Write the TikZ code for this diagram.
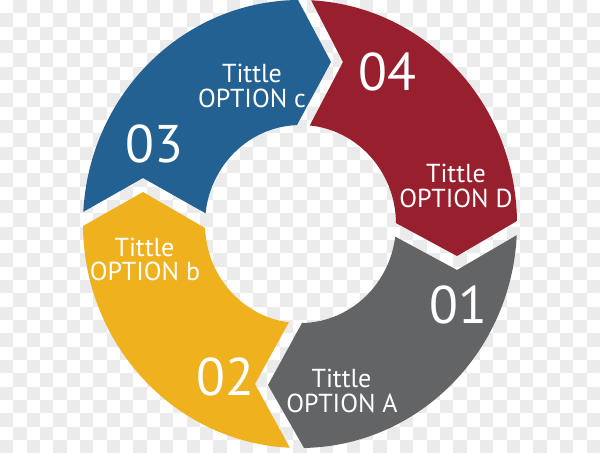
\documentclass[tikz,border=0pt]{standalone}
\usepackage{fontspec}
\setmainfont{PT Sans}
\definecolor{cblue}{RGB}{35,97,146}
\definecolor{cred}{RGB}{152,31,45}
\definecolor{cgrey}{RGB}{99,100,102}
\definecolor{cyellow}{RGB}{239,177,30}
\definecolor{checker}{RGB}{235,235,235}
\begin{document}
\begin{tikzpicture}[x=1pt,y=-1pt,
  ttl/.style={text=white, font=\fontsize{26}{26}\selectfont, anchor=base, inner sep=0pt},
  num/.style={text=white, font=\fontsize{53}{53}\selectfont, anchor=base, inner sep=0pt}]
\useasboundingbox (0,0) rectangle (600,453);
\fill[white] (0,0) rectangle (600,453);
\foreach \i in {0,...,44}{
  \foreach \j in {0,...,33}{
    \pgfmathtruncatemacro{\cpar}{mod(\i+\j,2)}
    \ifnum\cpar=1
      \fill[checker] (\i*13.3333,\j*13.3333) rectangle ++(13.3333,13.3333);
    \fi
  }
}
\def\ring{(300,224) ellipse [x radius=217, y radius=224] (300.5,224) ellipse [x radius=95.5, y radius=99]}
% red 04
\begin{scope}
\clip (292,-37) -- (311,0) -- (343,62) -- (310,125) -- (290,163) -- (300,224) -- (356,202) -- (394,222) -- (457,256) -- (517,221) -- (553,200) -- (700,200) -- (700,-100) -- (292,-100) -- cycle;
\fill[cred, even odd rule] \ring;
\end{scope}
% grey 01
\begin{scope}
\clip (553,214) -- (517,235) -- (457,270) -- (394,236) -- (356,216) -- (300,224) -- (322,286) -- (302,323) -- (268,385) -- (304,448) -- (326,486) -- (326,600) -- (700,600) -- (700,214) -- cycle;
\fill[cgrey, even odd rule] \ring;
\end{scope}
% yellow 02
\begin{scope}
\clip (311,486) -- (290,448) -- (255,384) -- (289,322) -- (309,285) -- (300,224) -- (242,250) -- (205,228) -- (143,192) -- (83,226) -- (47,246) -- (-100,246) -- (-100,600) -- (311,600) -- cycle;
\fill[cyellow, even odd rule] \ring;
\end{scope}
% blue 03
\begin{scope}
\clip (47,232) -- (83,212) -- (143,178) -- (205,213) -- (242,235) -- (300,224) -- (277,163) -- (297,125) -- (331,62) -- (298,0) -- (278,-37) -- (278,-100) -- (-100,-100) -- (-100,232) -- cycle;
\fill[cblue, even odd rule] \ring;
\end{scope}
% texts
\node[num] (n03) at (154,162) {03};
\node[num] (n04) at (387.5,90) {04};
\node[num] (n01) at (458,323) {01};
\node[num] (n02) at (225,395) {02};
\node[ttl] (tc1) at (252,82) {Tittle};
\node[ttl] (tc2) at (252,107) {OPTION c};
\node[ttl] (td1) at (456,182) {Tittle};
\node[ttl] (td2) at (456,207) {OPTION D};
\node[ttl] (ta1) at (341.5,387) {Tittle};
\node[ttl] (ta2) at (342,412) {OPTION A};
\node[ttl] (tb1) at (144.5,256) {Tittle};
\node[ttl] (tb2) at (145,280) {OPTION b};
\end{tikzpicture}
\end{document}
